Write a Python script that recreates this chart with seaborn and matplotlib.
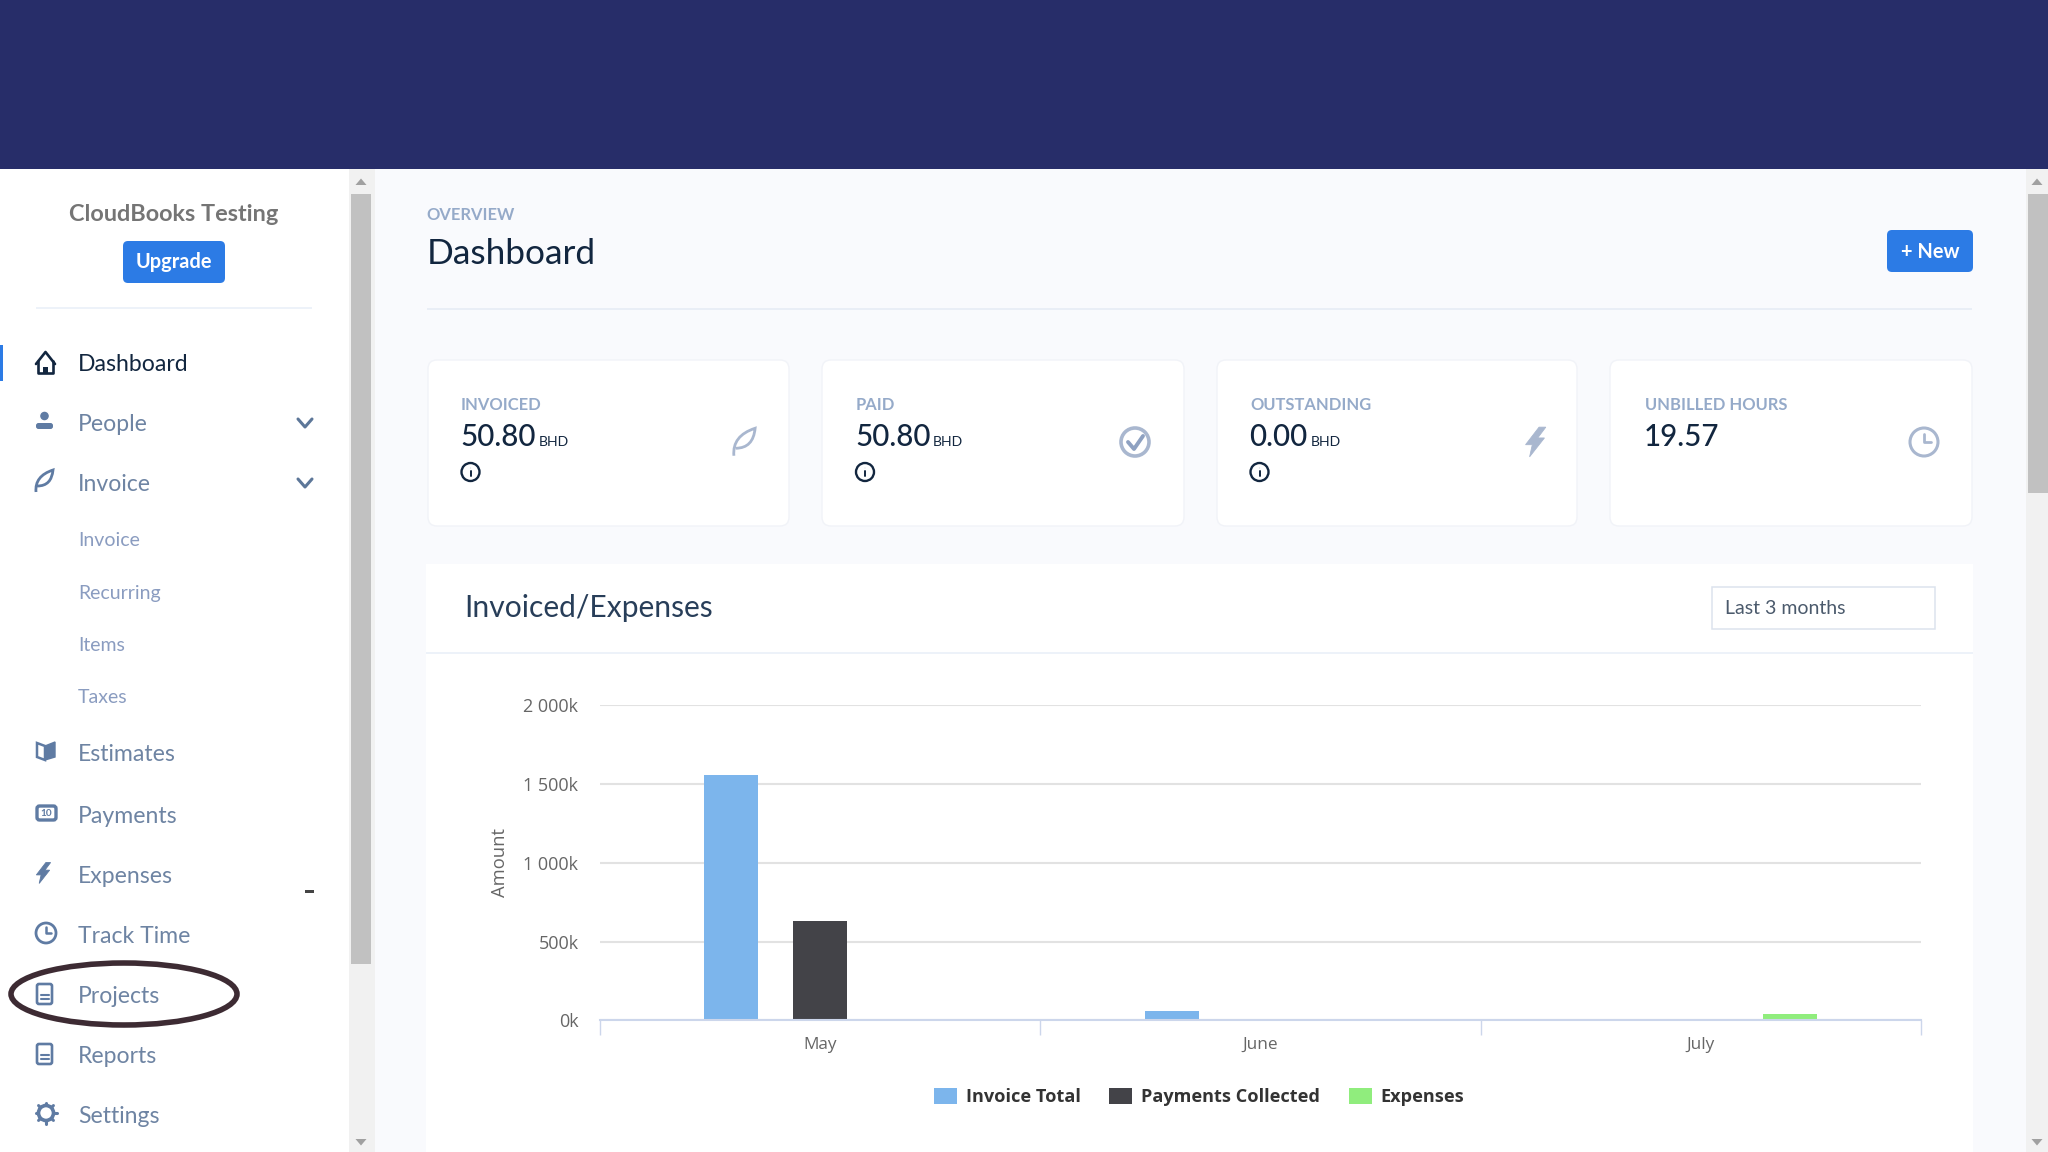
import numpy as np
import pandas as pd
import seaborn as sns
import matplotlib
matplotlib.use("Agg")
import matplotlib.pyplot as plt
from matplotlib.patches import FancyBboxPatch, Rectangle, Circle, Ellipse, Polygon, PathPatch
from matplotlib.path import Path

# ---------- chart data ----------
months = ["May", "June", "July"]
invoice_total = [1555, 58, 0]
payments_collected = [630, 0, 0]
expenses = [0, 0, 38]
series_names = ["Invoice Total", "Payments Collected", "Expenses"]
series_colors = ["#7cb5ec", "#434348", "#90ed7d"]
y_ticks = [0, 500, 1000, 1500, 2000]
y_tick_labels = ["0k", "500k", "1 000k", "1 500k", "2 000k"]

# ---------- page text ----------
cards = ["INVOICED", "PAID", "OUTSTANDING", "UNBILLED HOURS"]
card_values = ["50.80", "50.80", "0.00", "19.57"]
card_units = ["BHD", "BHD", "BHD", ""]
nav_main = ["Dashboard", "People", "Invoice", "Estimates", "Payments", "Expenses",
            "Track Time", "Projects", "Reports", "Settings"]
nav_sub = ["Invoice", "Recurring", "Items", "Taxes"]

BLUE = "#2c7be5"; NAVY = "#12263f"; SLATE = "#6e84a3"; LIGHT = "#95aac9"; ICON = "#5f7ba3"
UI = ["Lato", "DejaVu Sans"]

sns.set_theme(style="white")
plt.rcParams["font.family"] = ["Open Sans", "DejaVu Sans"]
fig = plt.figure(figsize=(20.48, 11.52), dpi=100, facecolor="#f9fafd")
ui = fig.add_axes([0, 0, 1, 1])
ui.set_xlim(0, 2048); ui.set_ylim(1152, 0); ui.axis("off")


def T(x, y, s, px, color, ha="left", weight="normal", family=None, **kw):
    ui.text(x, y + 1.5, s, fontsize=px * 0.72, color=color, ha=ha, va="center", weight=weight,
            family=family or UI, **kw)


def R(x0, y0, x1, y1, color, **kw):
    ui.add_patch(Rectangle((x0, y0), x1 - x0, y1 - y0, facecolor=color, edgecolor="none", **kw))


def RR(x0, y0, x1, y1, color, r=5, ec="none", lw=0):
    ui.add_patch(FancyBboxPatch((x0 + r, y0 + r), x1 - x0 - 2 * r, y1 - y0 - 2 * r,
                                boxstyle=f"round,pad={r}", facecolor=color, edgecolor=ec, linewidth=lw))


def L(xs, ys, color, lw=2.0):
    ui.plot(xs, ys, color=color, lw=lw, solid_capstyle="round", solid_joinstyle="round")


def leaf(cx, cy, s, color):
    pts = [(-8.5, 11), (-10, -5), (8.5, -11), (7, 5), (-7, 5)]
    pts = [(cx + a * s, cy + b * s) for a, b in pts]
    ui.add_patch(PathPatch(Path(pts, [Path.MOVETO, Path.CURVE3, Path.CURVE3, Path.CURVE3, Path.CURVE3]),
                           facecolor="none", edgecolor=color, lw=2.0))


def bolt(cx, cy, s, color):
    pts = [(3, -11), (-7, 2), (-2, 2), (-4, 11), (7, -3), (2, -3), (8, -11)]
    ui.add_patch(Polygon([(cx + a * s, cy + b * s) for a, b in pts], facecolor=color, edgecolor=color, lw=0.6))


def clock(cx, cy, r, color, lw=2.0):
    ui.add_patch(Circle((cx, cy), r, facecolor="none", edgecolor=color, lw=lw))
    L([cx, cx, cx + r * 0.5], [cy - r * 0.6, cy, cy], color, lw * 0.9)


def doc(cx, cy, color):
    RR(cx - 7.5, cy - 10, cx + 7.5, cy + 10, "none", r=2, ec=color, lw=1.9)
    L([cx - 4, cx + 4], [cy + 1, cy + 1], color, 1.5)
    L([cx - 4, cx + 4], [cy + 5, cy + 5], color, 1.5)


def chevron(cx, cy):
    L([cx - 7, cx, cx + 7], [cy - 4, cy + 4, cy - 4], "#5d7799", 2.2)


def info(cx, cy):
    ui.add_patch(Circle((cx, cy), 9, facecolor="white", edgecolor=NAVY, lw=1.7))
    L([cx, cx], [cy - 1, cy + 4], NAVY, 1.4)
    ui.add_patch(Circle((cx, cy - 4), 1, facecolor=NAVY))


def arrow(cx, cy, up=True):
    d = -1 if up else 1
    ui.add_patch(Polygon([(cx - 5.5, cy - d * 3), (cx + 5.5, cy - d * 3), (cx, cy + d * 3.5)],
                         facecolor="#a0a0a0", edgecolor="none"))


# ---------- page frame ----------
R(0, 0, 2048, 169, "#272d69")
R(0, 169, 349, 1152, "white")
R(349, 169, 375, 1152, "#f1f1f1")
R(351, 194, 371, 964, "#c1c1c1")
R(2026, 169, 2048, 1152, "#f1f1f1")
R(2028, 194, 2048, 493, "#c1c1c1")
for ax_x in (361, 2037):
    arrow(ax_x, 182, True)
    arrow(ax_x, 1142, False)

# ---------- sidebar ----------
T(174, 213, "CloudBooks Testing", 23.5, "#757575", ha="center", weight="bold")
RR(123, 241, 225, 283, BLUE, r=5)
T(174, 260, "Upgrade", 20, "white", ha="center", weight="bold")
R(36, 307, 312, 309, "#edf2f9")
R(0, 345, 3, 381, BLUE)
nav_y = [363, 423, 483, 753, 815, 875, 935, 995, 1055, 1115]
for name, y in zip(nav_main, nav_y):
    T(78, y, name, 23, NAVY if name == "Dashboard" else SLATE)
for name, y in zip(nav_sub, [539, 592, 644, 696]):
    T(78, y, name, 19.5, "#8a9cc0")
chevron(305, 423); chevron(305, 483)
R(305, 890, 314, 893, "#444444")

# sidebar icons
L([36, 45.5, 55], [364, 352, 364], NAVY, 1.9)
L([38, 38, 53, 53], [361, 373, 373, 361], NAVY, 1.9)
R(43, 367, 48, 373, NAVY)
ui.add_patch(Circle((44.5, 416), 5, facecolor=ICON))
RR(36, 423, 53, 429, ICON, r=2.5)
leaf(44.5, 481, 1.0, ICON)
ui.add_patch(Polygon([(37, 743), (45, 746), (45, 760), (37, 757)], facecolor="none", edgecolor=ICON, lw=1.8))
ui.add_patch(Polygon([(45, 746), (55, 742), (55, 757), (45, 760)], facecolor=ICON, edgecolor=ICON, lw=1.0))
RR(37, 806, 56, 820, "none", r=2.5, ec=ICON, lw=2.4)
T(46.5, 812, "10", 10, ICON, ha="center", weight="bold")
bolt(43, 873, 0.95, ICON)
clock(46, 933, 10, ICON)
doc(44.5, 994, ICON)
doc(44.5, 1054, ICON)
ui.add_patch(Circle((46, 1113), 7.5, facecolor="none", edgecolor=ICON, lw=2.6))
for a in np.deg2rad(np.arange(0, 360, 45)):
    L([46 + 8.5 * np.cos(a), 46 + 10.5 * np.cos(a)], [1113 + 8.5 * np.sin(a), 1113 + 10.5 * np.sin(a)], ICON, 2.2)

# highlight ring
ui.add_patch(Ellipse((124, 994), 226, 62, facecolor="none", edgecolor="#3d2b33", lw=4.0, zorder=6))

# ---------- header ----------
T(426, 213, "OVERVIEW", 16.5, LIGHT, weight="bold")
T(427, 253, "Dashboard", 35.2, NAVY)
R(427, 308, 1972, 310, "#e9eef6")
RR(1887, 230, 1973, 272, BLUE, r=5)
T(1930, 250, "+ New", 20, "white", ha="center", weight="bold")

# ---------- stat cards ----------
card_x0 = [428, 822, 1217, 1610]
card_x1 = [789, 1184, 1577, 1972]
text_x = [460, 855, 1249, 1644]
label_x = [461, 856, 1250, 1645]
unit_x = [539, 933, 1311, None]
info_x = [470.5, 865, 1259.5, None]
for i in range(4):
    RR(card_x0[i], 360, card_x1[i], 526, "white", r=9, ec="#f1f3f8", lw=1)
    T(label_x[i], 404, cards[i], 16.5, LIGHT, weight="bold")
    T(text_x[i], 436, card_values[i], 29.5, NAVY, weight=500)
    if card_units[i]:
        T(unit_x[i], 441, card_units[i], 14, NAVY)
        info(info_x[i], 472)
leaf(744.5, 442, 1.25, "#a9b7cf")
ui.add_patch(Circle((1135, 442), 14, facecolor="none", edgecolor="#a9b7cf", lw=2.6))
L([1128, 1134, 1143], [442, 449, 436], "#8ea1c1", 2.8)
bolt(1535, 442, 1.35, "#a9b7cf")
clock(1924, 442, 14, "#a9b7cf", 2.2)

# ---------- chart card ----------
R(426, 564, 1973, 1152, "white")
R(426, 652, 1973, 654, "#edf2f9")
T(464, 607, "Invoiced/Expenses", 30, "#283e59")
ui.add_patch(Rectangle((1712, 587), 223, 42, facecolor="white", edgecolor="#dce3ee", lw=1.1))
T(1725, 607, "Last 3 months", 19.5, "#4b5a6c")

# ---------- chart ----------
W, H = 2048, 1152
x0, x1, y_top, y_bot = 600, 1921, 705.3, 1020.3
ax = fig.add_axes([x0 / W, 1 - y_bot / H, (x1 - x0) / W, (y_bot - y_top) / H], facecolor="none")
df = pd.DataFrame({
    "Month": months * 3,
    "Series": np.repeat(series_names, 3),
    "Amount": invoice_total + payments_collected + expenses,
})
sns.barplot(data=df, x="Month", y="Amount", hue="Series", hue_order=series_names,
            palette=series_colors, saturation=1, width=0.605, gap=0.39, linewidth=0, ax=ax)
ax.set_xlim(-0.5, 2.5); ax.set_ylim(0, 2000)
ax.set_axisbelow(True)
ax.yaxis.grid(True, color="#e2e2e2", lw=1.5)
ax.xaxis.grid(False)
for s in ("top", "right", "left"):
    ax.spines[s].set_visible(False)
ax.spines["bottom"].set_color("#ccd6eb"); ax.spines["bottom"].set_linewidth(1.5)
ax.set_yticks(y_ticks, y_tick_labels)
ax.set_xticks(range(3), months)
ax.set_xticks([-0.5, 0.5, 1.5, 2.5], minor=True)
ax.tick_params(axis="x", which="minor", length=11, width=1, color="#ccd6eb", bottom=True)
ax.tick_params(axis="x", which="major", length=0, pad=12, labelsize=12.4, labelcolor="#666666")
ax.tick_params(axis="y", length=0, pad=15.5, labelsize=13, labelcolor="#666666")
ax.set_xlabel("")
ax.set_ylabel("Amount", fontsize=13.2, color="#666666", labelpad=0)
ax.yaxis.set_label_coords((509 - x0) / (x1 - x0), 0.5)
fs_px = 18.2
h, l = ax.get_legend_handles_labels()
leg = ax.legend(h, l, loc="lower left", bbox_to_anchor=(934 / W, 1 - 1106 / H), bbox_transform=fig.transFigure,
                frameon=False, ncol=3, borderpad=0, borderaxespad=0,
                handlelength=23 / fs_px, handleheight=1.0, handletextpad=8.5 / fs_px, columnspacing=1.6,
                prop={"family": ["Open Sans", "DejaVu Sans"], "weight": "bold", "size": fs_px * 0.72})
for t in leg.get_texts():
    t.set_color("#333333")

fig.savefig("out.png", dpi=100, facecolor=fig.get_facecolor())
